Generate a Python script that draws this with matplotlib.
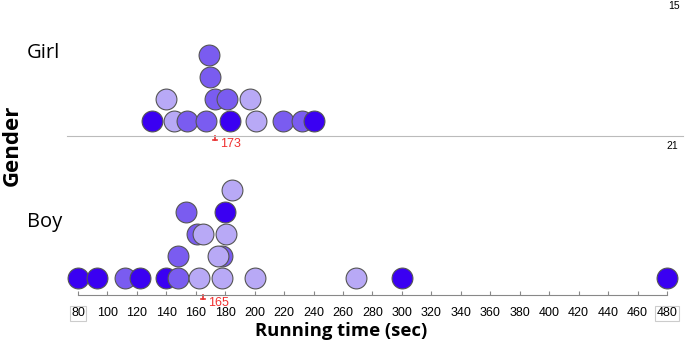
import matplotlib
matplotlib.use("Agg")
import matplotlib.pyplot as plt
import numpy as np

# running times (sec), stack level and colour shade for each dot, in drawing order
girl_time = [130, 145, 154, 167, 183, 201, 219, 232, 240, 140, 173, 181, 197, 169.5, 169]
girl_stack = [0, 0, 0, 0, 0, 0, 0, 0, 0, 1, 1, 1, 1, 2, 3]
girl_shade = ['dark', 'light', 'mid', 'mid', 'dark', 'light', 'mid', 'mid', 'dark',
              'light', 'mid', 'mid', 'light', 'mid', 'mid']

boy_time = [80, 93, 112, 122, 140, 148, 162, 178, 200, 269, 300, 480,
            148, 177.5, 175, 160.5, 165, 180.5, 153, 180, 184.5]
boy_stack = [0, 0, 0, 0, 0, 0, 0, 0, 0, 0, 0, 0,
             1, 1, 1, 2, 2, 2, 3, 3, 4]
boy_shade = ['dark', 'dark', 'mid', 'dark', 'dark', 'mid', 'light', 'light', 'light', 'light', 'dark', 'dark',
             'mid', 'mid', 'light', 'mid', 'light', 'light', 'mid', 'dark', 'light']

groups = ['Girl', 'Boy']
ticks = list(range(80, 481, 20))
shade_colors = {'dark': '#3a00f2', 'mid': '#7a5cf0', 'light': '#b8a9f6'}

W, H = 685, 348
fig = plt.figure(figsize=(W / 100, H / 100), dpi=100)

def px_axes(x0, y_top, x1, y_bot):
    return fig.add_axes([x0 / W, 1 - y_bot / H, (x1 - x0) / W, (y_bot - y_top) / H])

xlim = (72.5, 490.9)
ax_g = px_axes(67, 0, 683, 136)
ax_b = px_axes(67, 146, 683, 295)
step = 22

panels = [(ax_g, girl_time, girl_stack, girl_shade, 15, 136),
          (ax_b, boy_time, boy_stack, boy_shade, 17, 149)]
for ax, t, s, sh, base, hgt in panels:
    ax.patch.set_visible(False)
    ax.set_xlim(*xlim)
    ax.set_ylim(0, hgt)
    for side in ['top', 'right', 'left']:
        ax.spines[side].set_visible(False)
    ax.set_yticks([])
    for xi, si, ci in zip(t, s, sh):
        ax.scatter(xi, base + si * step, s=225, color=shade_colors[ci],
                   edgecolor='#555555', linewidth=0.8, zorder=3, clip_on=False)
    med = np.median(t)
    ax.plot([med, med], [0, -4], color='#e83030', lw=1.2, clip_on=False)
    ax.plot([med - 1.5, med + 1.5], [-4, -4], color='#e83030', lw=1.2, clip_on=False)
    ax.text(med + 3.5, -8, '%d' % med, color='#f03030', fontsize=9, family='Liberation Sans',
            ha='left', va='center', clip_on=False)

# top panel: plain grey baseline
ax_g.spines['bottom'].set_color('#bbbbbb')
ax_g.set_xticks([])

# bottom panel: time axis
ax_b.spines['bottom'].set_color('#888888')
ax_b.spines['bottom'].set_bounds(80, 480)
ax_b.set_xticks(ticks)
ax_b.set_xticklabels([str(v) for v in ticks], family='Liberation Sans', fontsize=9)
ax_b.tick_params(axis='x', direction='in', length=3, color='#888888', pad=9)
for lbl in [ax_b.get_xticklabels()[0], ax_b.get_xticklabels()[-1]]:
    lbl.set_bbox(dict(facecolor='none', edgecolor='#cccccc', linewidth=0.8, pad=1))

# counts
fig.text(680 / W, 1 - 6 / H, str(len(girl_time)), ha='right', va='center',
         fontsize=7.5, family='Liberation Sans')
fig.text(678 / W, 1 - 146 / H, str(len(boy_time)), ha='right', va='center',
         fontsize=7.5, family='Liberation Sans')

# group labels and axis titles
fig.text(27 / W, 1 - 53 / H, groups[0], ha='left', va='center', fontsize=14.5, family='Open Sans')
fig.text(27 / W, 1 - 222 / H, groups[1], ha='left', va='center', fontsize=14.5, family='Open Sans')
fig.text(12 / W, 1 - 145 / H, 'Gender', rotation=90, ha='center', va='center',
         fontsize=16, fontweight='bold', family='Open Sans')
fig.text(341 / W, 1 - 331 / H, 'Running time (sec)', ha='center', va='center',
         fontsize=13.3, fontweight='bold', family='Open Sans')

fig.savefig('out.png', dpi=100)
